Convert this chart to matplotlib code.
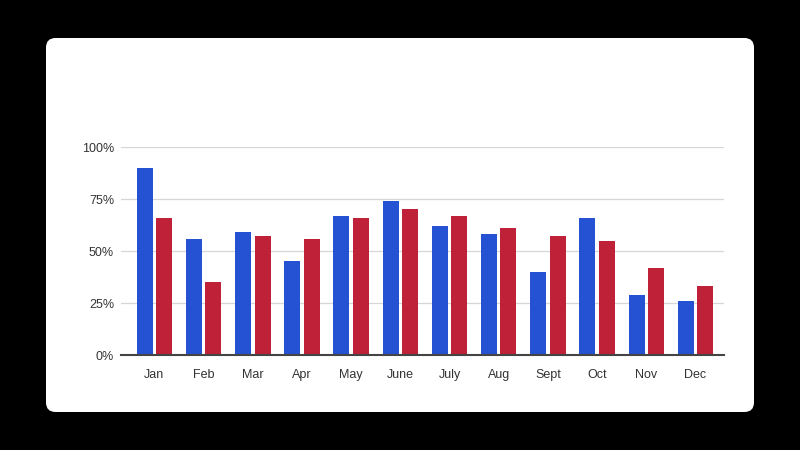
import matplotlib.pyplot as plt
import numpy as np
from matplotlib.patches import FancyBboxPatch
from matplotlib.ticker import FixedLocator

months = ["Jan", "Feb", "Mar", "Apr", "May", "June", "July", "Aug", "Sept", "Oct", "Nov", "Dec"]
blue_vals = [90, 56, 59, 45, 67, 74, 62, 58, 40, 66, 29, 26]
red_vals = [66, 35, 57, 56, 66, 70, 67, 61, 57, 55, 42, 33]
y_ticks = [0, 25, 50, 75, 100]
y_labels = ["0%", "25%", "50%", "75%", "100%"]

plt.rcParams["font.family"] = ["Liberation Sans", "DejaVu Sans"]

fig = plt.figure(figsize=(8, 4.5), dpi=100, facecolor="black")

# white card behind the chart
card = FancyBboxPatch((46 / 800, 1 - 412 / 450), 708 / 800, 374 / 450,
                      boxstyle="round,pad=0,rounding_size=0.012",
                      mutation_aspect=800 / 450,
                      transform=fig.transFigure, facecolor="white",
                      edgecolor="none", zorder=-5)
fig.patches.append(card)

ax = fig.add_axes([121 / 800, 1 - 355 / 450, 603 / 800, 208 / 450])
ax.set_facecolor("none")
ax.set_zorder(5)

x = np.arange(len(months))
w = 0.325
gap = 0.07
ax.bar(x - (w + gap) / 2, blue_vals, width=w, color="#2452d2", zorder=3)
ax.bar(x + (w + gap) / 2, red_vals, width=w, color="#bf2238", zorder=3)

ax.set_xlim(-0.68, 11.58)
ax.set_ylim(0, 100)
ax.yaxis.set_major_locator(FixedLocator(y_ticks))
ax.set_yticklabels(y_labels)
ax.set_xticks(x)
ax.set_xticklabels(months)
ax.tick_params(axis="both", length=0, labelsize=9, colors="#333333")
ax.tick_params(axis="x", pad=10)
ax.tick_params(axis="y", pad=5)

ax.grid(axis="y", color="#d6d6d6", linewidth=0.9, zorder=0)
for s in ["top", "right", "left"]:
    ax.spines[s].set_visible(False)
ax.spines["bottom"].set_color("#444444")
ax.spines["bottom"].set_linewidth(1.5)
ax.spines["bottom"].set_zorder(4)

fig.savefig("out.png", dpi=100, facecolor="black")
